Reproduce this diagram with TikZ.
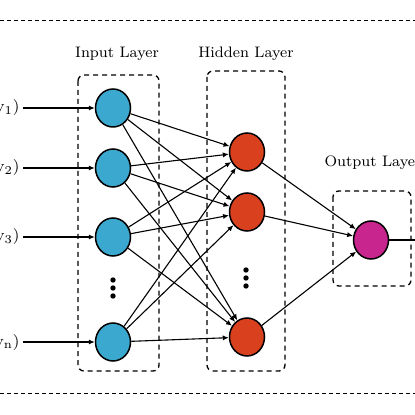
\documentclass[tikz,border=0pt]{standalone}
\usepackage{amssymb,amsmath}
\usetikzlibrary{positioning, arrows.meta, shapes.geometric}
\definecolor{inblue}{HTML}{3BA9CF}
\definecolor{hidred}{HTML}{D8401E}
\definecolor{outpink}{HTML}{C8258E}
\tikzset{%
	>={Latex[length=3pt,width=2.6pt]},
	every edge/.append style={line width = 0.55pt},
	neuron/.style = {name = #1, ellipse, draw, line width = 0.75pt, inner sep = 0pt, minimum width = 17.5pt, minimum height = 19pt},
	layer/.style = {draw, line width = 0.65pt, dash pattern = on 2.5pt off 2pt, rounded corners = 3pt},
	sepline/.style = {draw, line width = 0.5pt, dash pattern = on 2pt off 1.5pt},
	lbl/.style = {font = \fontsize{7.6}{9}\selectfont},
	ylbl/.style = {font = \fontsize{8.5}{10}\selectfont, anchor = east, inner sep = 1.5pt}
}
\begin{document}
\begin{tikzpicture}[x=0.5pt, y=-0.5pt]
			\useasboundingbox (0,0) rectangle (415,415);
			\path [sepline] (0,21) -- (415,21);
			\path [sepline] (0,393) -- (415,393);
			% layer boxes
			\path [layer] (78,75) rectangle (159,371);
			\path [layer] (207,71) rectangle (285,371);
			\path [layer] (333,191) rectangle (411,286);
			\node [lbl] (inlbl) at (117,54) {Input Layer};
			\node [lbl] (hidlbl) at (246,54) {Hidden Layer};
			\node [lbl] (outlbl) at (373,163) {Output Layer};
			% neurons
			\node [neuron = I1, fill = inblue] at (113,108) {};
			\node [neuron = I2, fill = inblue] at (113,168) {};
			\node [neuron = I3, fill = inblue] at (113,237) {};
			\node [neuron = In, fill = inblue] at (113,342) {};
			\node [neuron = H1, fill = hidred] at (247,152) {};
			\node [neuron = H2, fill = hidred] at (247,212) {};
			\node [neuron = Hn, fill = hidred] at (247,337) {};
			\node [neuron = O, fill = outpink] at (371,240) {};
			\foreach \y in {280,288,296} \fill (113,\y) circle (2.7);
			\foreach \y in {270,278,286} \fill (246,\y) circle (2.7);
			% inputs
			\node [ylbl] (y1) at (23,108) {$\mathrm{y}_{1})$};
			\node [ylbl] (y2) at (23,168) {$\mathrm{y}_{2})$};
			\node [ylbl] (y3) at (23,237) {$\mathrm{y}_{3})$};
			\node [ylbl] (yn) at (23,342) {$\mathrm{y}_{\mathrm{n}})$};
			\path [->] (y1) edge (I1);
			\path [->] (y2) edge (I2);
			\path [->] (y3) edge (I3);
			\path [->] (yn) edge (In);
			\foreach \i in {I1,I2,I3,In}
				\foreach \h in {H1,H2,Hn}
					\path [->] (\i) edge (\h);
			\foreach \h in {H1,H2,Hn}
				\path [->] (\h) edge (O);
			\coordinate (outend) at (415,240);
			\path (O) edge (outend);
\end{tikzpicture}
\end{document}
